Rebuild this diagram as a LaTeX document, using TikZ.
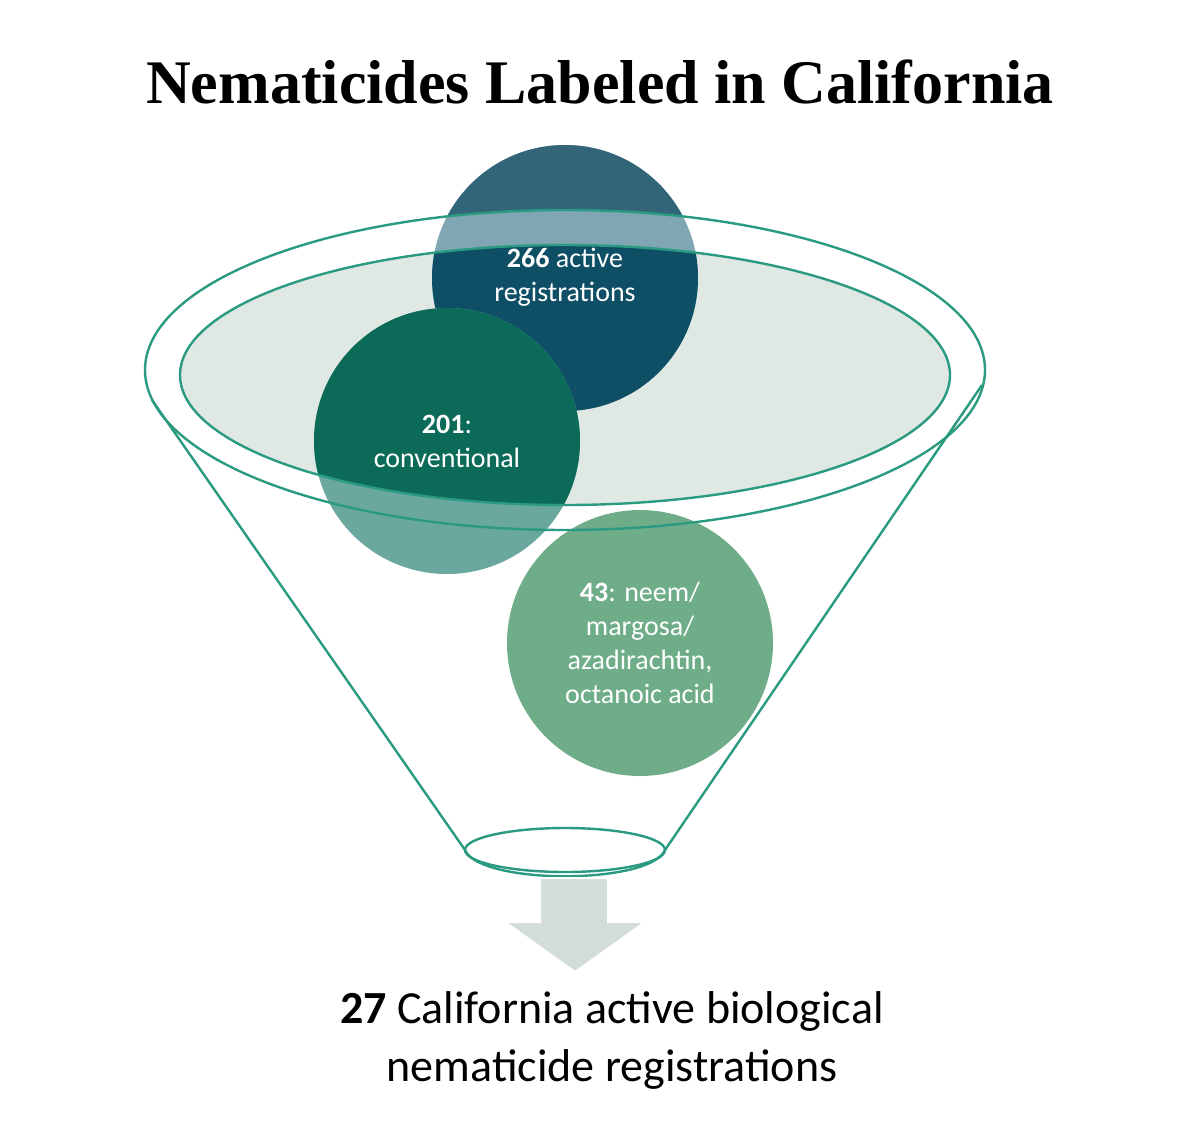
\documentclass[tikz,border=0pt]{standalone}
\usepackage{fontspec}
\setmainfont{Liberation Serif}
\newfontfamily\carlitofont{Carlito}
\definecolor{rim}{HTML}{2A9A80}
\definecolor{inner}{HTML}{DFE8E3}
\definecolor{cAdark}{HTML}{0F4F66}
\definecolor{cAtop}{HTML}{336579}
\definecolor{cAlight}{HTML}{7FA6B2}
\definecolor{cBdark}{HTML}{0B6B58}
\definecolor{cBlight}{HTML}{6AA89F}
\definecolor{cC}{HTML}{6FAD89}
\definecolor{arr}{HTML}{D3DDD8}
\tikzset{rimline/.style={draw=rim,line width=1.2pt},
 ctext/.style={text=white,font=\carlitofont\fontsize{14}{17}\selectfont,align=center}}
\begin{document}
\begin{tikzpicture}[x=0.5pt,y=-0.5pt]
\useasboundingbox (0,0) rectangle (1200,1120);
\node[font=\bfseries\fontsize{31}{36}\selectfont] (title) at (600,82) {Nematicides Labeled in California};
\draw[rimline] (152,400) -- (465,850);
\draw[rimline] (982,385) -- (665,850);
\draw[rimline] (465,850) .. controls (480,885) and (650,885) .. (665,850);
\fill[inner] (565,375) ellipse [x radius=385,y radius=130];
\fill[cAlight] (565,278) circle [radius=133];
\begin{scope}\clip (565,375) ellipse [x radius=385,y radius=130];
\fill[cAdark] (565,278) circle [radius=133];\end{scope}
\begin{scope}[even odd rule]\clip (0,0) rectangle (1200,1120) (565,370) ellipse [x radius=420,y radius=160];
\fill[cAtop] (565,278) circle [radius=133];\end{scope}
\fill[cBlight] (447,441) circle [radius=133];
\begin{scope}\clip (565,375) ellipse [x radius=385,y radius=130];
\fill[cBdark] (447,441) circle [radius=133];\end{scope}
\fill[cC] (640,643) circle [radius=133];
\draw[rimline] (565,370) ellipse [x radius=420,y radius=160];
\draw[rimline] (565,375) ellipse [x radius=385,y radius=130];
\draw[rimline] (565,850) ellipse [x radius=100,y radius=22];
\node[ctext] (a) at (565,277) {\textbf{266} active\\registrations};
\node[ctext] (b) at (447,441) {\textbf{201}:\\conventional};
\node[ctext] (c) at (640,643) {\textbf{43}: neem/\\margosa/\\azadirachtin,\\octanoic acid};
\fill[arr,draw=white,line width=1pt] (540,878) -- (608,878) -- (608,922) -- (645,922) -- (575,972) -- (505,922) -- (540,922) -- cycle;
\node[font=\carlitofont\fontsize{23}{29}\selectfont,align=center] (bot) at (612,1040) {\textbf{27} California active biological\\nematicide registrations};
\end{tikzpicture}
\end{document}
